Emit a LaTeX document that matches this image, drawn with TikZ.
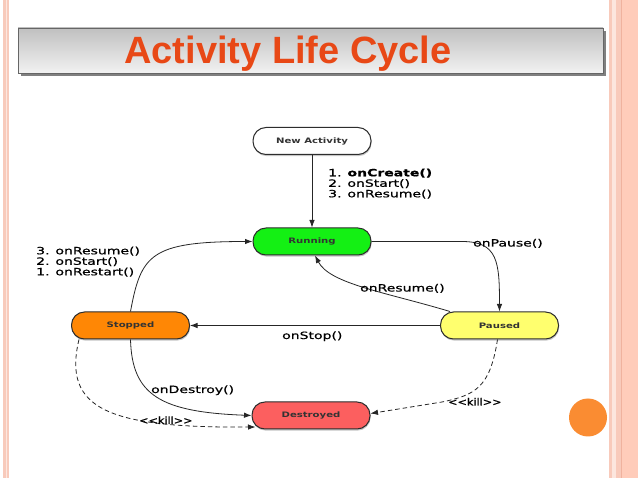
\documentclass[tikz,border=0pt]{standalone}
\usepackage{fontspec}
\setmainfont{DejaVu Sans}
\newfontfamily\labfont[FakeStretch=1.4,FakeBold=0.7]{DejaVu Sans}
\newfontfamily\killfont[FakeStretch=1.12,FakeBold=0.7]{DejaVu Sans}
\newfontfamily\nodefont[FakeStretch=1.35]{DejaVu Sans}
\newfontfamily\titlefont{Liberation Sans}
\usetikzlibrary{arrows.meta,calc,shadows}
\definecolor{stripe}{RGB}{248,202,187}
\definecolor{stripelight}{RGB}{252,230,222}
\definecolor{stripedark}{RGB}{240,178,158}
\definecolor{stripesalmon}{RGB}{255,204,186}
\definecolor{titlered}{RGB}{232,72,22}
\definecolor{rungreen}{RGB}{20,240,20}
\definecolor{stoporange}{RGB}{255,135,5}
\definecolor{pauseyellow}{RGB}{255,255,110}
\definecolor{destred}{RGB}{252,95,95}
\definecolor{dotorange}{RGB}{250,140,50}
\definecolor{edgegray}{RGB}{45,45,45}
\definecolor{boxtop}{RGB}{192,192,192}
\definecolor{boxbottom}{RGB}{242,242,242}
\begin{document}
\begin{tikzpicture}[x=1pt,y=-1pt,
  state/.style={draw=edgegray, line width=1pt, rounded corners=13pt,
    minimum width=118pt, minimum height=27pt, inner sep=0pt,
    font=\nodefont\bfseries\fontsize{7.5}{9}\selectfont, text=black!80,
    drop shadow={shadow xshift=0.6pt, shadow yshift=-1.6pt, opacity=0.45}},
  lab/.style={font=\labfont\fontsize{10}{10.5}\selectfont, inner sep=0pt, align=left},
  killlab/.style={font=\killfont\fontsize{10}{10.5}\selectfont, inner sep=0pt},
  conn/.style={draw=black!85, line width=0.8pt, -{Latex[length=7.5pt,width=5.5pt]}},
  killconn/.style={conn, dash pattern=on 4.5pt off 3pt}]
\useasboundingbox (0,0) rectangle (638,478);
\fill[white] (0,0) rectangle (638,478);
% side stripes
\fill[stripe] (3,0) rectangle (9,478);
\fill[stripelight] (5.5,0) rectangle (6.5,478);
\fill[stripe] (609,0) rectangle (612,478);
\fill[stripelight] (612,0) rectangle (616,478);
\fill[stripe] (616,0) rectangle (621,478);
\fill[stripedark] (621,0) rectangle (622,478);
\fill[stripesalmon] (622,0) rectangle (638,478);
% title bar
\fill[black!50] (21,31) rectangle (606,76);
\shade[top color=boxtop, bottom color=boxbottom] (18,28) rectangle (603,73);
\draw[black!60, line width=0.8pt] (18,28) rectangle (603,73);
\node[font=\titlefont\bfseries\fontsize{38}{40}\selectfont, text=titlered, inner sep=0pt, anchor=base] (title) at (288,64) {Activity Life Cycle};
% decoration dot
\fill[dotorange] (588,417.5) circle (19);
% states
\node[state, fill=white] (na) at (312,141) {New Activity};
\node[state, fill=rungreen] (run) at (312,241.5) {Running};
\node[state, fill=stoporange] (stop) at (130.5,325.5) {Stopped};
\node[state, fill=pauseyellow] (pause) at (499.5,325.5) {Paused};
\node[state, fill=destred] (dest) at (311,415.5) {Destroyed};
% connectors
\draw[conn] (na) -- (run);
\draw[conn] (run.east) -- (462,241.5) .. controls (498,241.5) and (499.5,262) .. (pause.north);
\draw[conn] ($(pause.north west)+(10,0)$) .. controls (385,292) and (330,284) .. ($(run.south)+(3,0)$);
\draw[conn] (pause.west) -- (stop.east);
\draw[conn] (stop.north) .. controls (141,255) and (150,241.5) .. (run.west);
\draw[conn] (stop.south) .. controls (132,395) and (160,412) .. (dest.west);
\draw[killconn] ($(stop.south west)+(8,0)$) .. controls (62,410) and (110,428) .. ($(dest.south west)+(4,-2.5)$);
\draw[killconn] ($(pause.south)+(-2,0)$) .. controls (490,388) and (475,395) .. (442,402) -- ($(dest.east)+(0,-2)$);
% labels
\node[lab, anchor=north west] (lcreate) at (328,168.5) {1. {\bfseries onCreate()}\\2. onStart()\\3. onResume()};
\node[lab, anchor=north west] (lrestart) at (36,246.5) {3. onResume()\\2. onStart()\\1. onRestart()};
\node[lab, anchor=base west] (lpause) at (473,246.5) {onPause()};
\node[lab, anchor=base west] (lresume) at (360,291.5) {onResume()};
\node[lab, anchor=base west] (lstop) at (282,339) {onStop()};
\node[lab, anchor=base west] (ldestroy) at (151,393) {onDestroy()};
\node[killlab, anchor=base west] (lkill1) at (139,424) {<<kill>>};
\node[killlab, anchor=base west] (lkill2) at (448,405.5) {<<kill>>};
\end{tikzpicture}
\end{document}
